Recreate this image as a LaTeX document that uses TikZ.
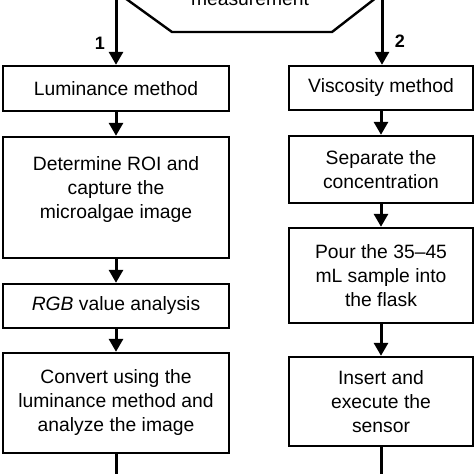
\documentclass[tikz,border=0pt]{standalone}
\usepackage{fontspec}
\setmainfont{Liberation Sans}
\usetikzlibrary{arrows.meta}
\begin{document}
\begin{tikzpicture}[x=1pt,y=-1pt,
  box/.style={draw=black,line width=2.4pt,fill=white,inner sep=0pt,align=center,
    font=\fontsize{19.3}{24}\selectfont},
  txt/.style={inner sep=0pt,align=center,font=\fontsize{19.3}{24}\selectfont},
  flow/.style={line width=3pt,-{Triangle[length=13pt,width=14pt]}},
  num/.style={inner sep=0pt,font=\fontsize{18}{18}\selectfont\bfseries}]
\useasboundingbox (0,0) rectangle (474,474);
\clip (0,0) rectangle (474,474);
\fill[white] (0,0) rectangle (474,474);
% top hexagon (cut by the frame)
\draw[line width=2.4pt] (100,-20) -- (172,32) -- (332,32) -- (399,-20);
\node[txt,anchor=base] (meas) at (250,5) {measurement};
% free ends above the frame
\coordinate (topL) at (116,-10);
\coordinate (topR) at (382,-10);
\coordinate (botL) at (116,500);
\coordinate (botR) at (381,500);
% left column
\node[box,minimum width=226pt,minimum height=45pt] (lum) at (116,88.5) {Luminance method};
\node[box,minimum width=226pt,minimum height=121pt] (roi) at (116,197.5) {};
\node[txt] (roit) at (116,190) {Determine ROI and\\capture the\\microalgae image};
\node[box,minimum width=226pt,minimum height=44pt] (rgb) at (116,306) {\textit{RGB} value analysis};
\node[box,minimum width=226pt,minimum height=100pt] (conv) at (116,403) {Convert using the\\luminance method and\\analyze the image};
% right column
\node[box,minimum width=184pt,minimum height=44pt] (vis) at (381,88) {Viscosity method};
\node[box,minimum width=184pt,minimum height=67pt] (sep) at (381,169.5) {Separate the\\concentration};
\node[box,minimum width=184pt,minimum height=95pt] (pour) at (381,275.5) {Pour the 35--45\\mL sample into\\the flask};
\node[box,minimum width=184pt,minimum height=89pt] (ins) at (381,401.5) {Insert and\\execute the\\sensor};
% numbers
\node[num] (n1) at (100,43) {1};
\node[num] (n2) at (400,41) {2};
% connectors
\draw[flow] (topL) -- (lum.north -| topL);
\draw[flow] (topR) -- (vis.north -| topR);
\draw[flow] (lum) -- (roi);
\draw[flow] (roi) -- (rgb);
\draw[flow] (rgb) -- (conv);
\draw[flow] (conv) -- (botL);
\draw[flow] (vis) -- (sep);
\draw[flow] (sep) -- (pour);
\draw[flow] (pour) -- (ins);
\draw[flow] (ins) -- (botR);
\end{tikzpicture}
\end{document}
